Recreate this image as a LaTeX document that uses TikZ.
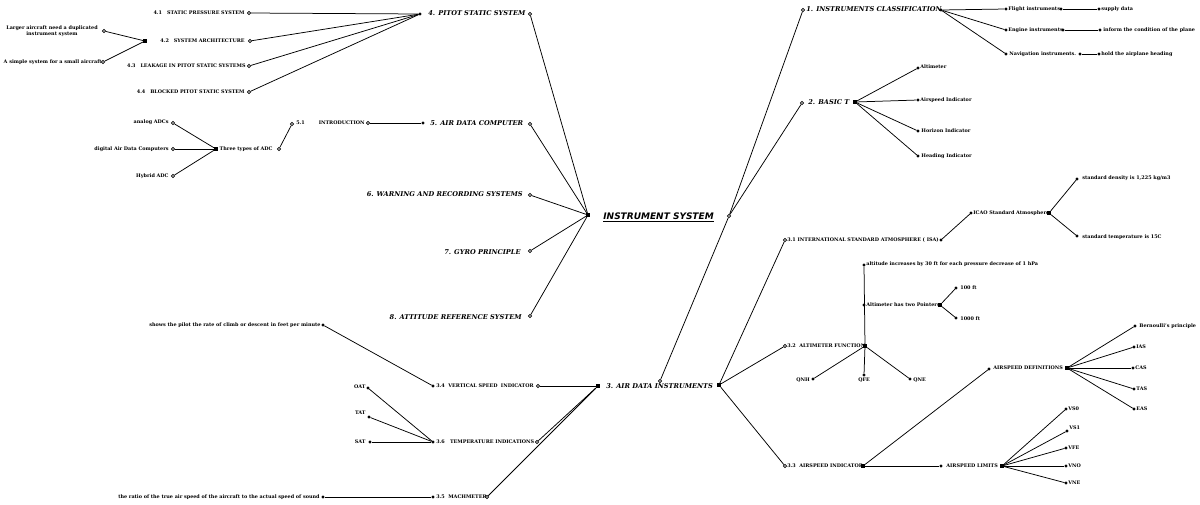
\documentclass[tikz,border=0pt]{standalone}
\usepackage{fontspec}
\setmainfont{DejaVu Serif}
\setsansfont{DejaVu Sans}
\begin{document}
\begin{tikzpicture}[x=1pt,y=-1pt,line width=0.75pt,
  dot/.style={circle,draw,fill=white,inner sep=0,minimum size=3.2pt,line width=0.6pt},
  bdot/.style={circle,draw,fill=black,inner sep=0,minimum size=2.4pt},
  sq/.style={rectangle,fill=black,inner sep=0,minimum size=3.5pt},
  sm/.style={font=\fontsize{4.9}{5.8}\selectfont\bfseries,inner sep=0},
  bg/.style={font=\fontsize{6.6}{8}\selectfont\bfseries\itshape,inner sep=0},
  lt/.style={sm,anchor=west},
  rt/.style={sm,anchor=east},
  lb/.style={bg,anchor=west},
  rb/.style={bg,anchor=east}]
\useasboundingbox (0,0) rectangle (1200,504);
% center
\node[sq] (c) at (588,215) {};
\node[font=\fontsize{9}{11}\selectfont\sffamily\bfseries\itshape,anchor=west,inner sep=0] (ct) at (603,217) {\underline{INSTRUMENT SYSTEM}};
\node[dot] (cr) at (729,216) {};
% left main
\node[dot] (p4r) at (530,14) {}; \node[bdot] (p4) at (420,14) {}; \node[lb] at (428,13) {4. PITOT STATIC SYSTEM};
\node[dot] (p5r) at (530,124) {}; \node[bdot] (p5) at (423,123) {}; \node[lb] at (430,123) {5. AIR DATA COMPUTER};
\node[dot] (p6r) at (530,195) {}; \node[rb] at (523,194) {6. WARNING AND RECORDING SYSTEMS};
\node[dot] (p7r) at (530,251) {}; \node[rb] at (521,252) {7. GYRO PRINCIPLE};
\node[dot] (p8r) at (530,316) {}; \node[rb] at (522,317) {8. ATTITUDE REFERENCE SYSTEM};
\foreach \n in {p4r,p5r,p6r,p7r,p8r} \draw (c) -- (\n);
% 4
\node[dot] (a41) at (249,13) {}; \node[rt] at (245,13) {4.1\quad STATIC PRESSURE SYSTEM};
\node[dot] (a42) at (250,41) {}; \node[rt] at (245,41) {4.2\quad SYSTEM ARCHITECTURE};
\node[dot] (a43) at (249,66) {}; \node[rt] at (246,66) {4.3\quad LEAKAGE IN PITOT STATIC SYSTEMS};
\node[dot] (a44) at (249,92) {}; \node[rt] at (245,92) {4.4\quad BLOCKED PITOT STATIC SYSTEM};
\foreach \n in {a41,a42,a43,a44} \draw (p4) -- (\n);
\node[sq] (a42l) at (145,41) {};
\node[dot] (l1) at (104,31) {}; \node[sm,align=center] at (52,31) {Larger aircraft need a duplicated\\instrument system};
\node[dot] (l2) at (103,62) {}; \node[rt] at (102,62) {A simple system for a small aircraft};
\draw (a42l) -- (l1); \draw (a42l) -- (l2);
% 5
\node[dot] (intr) at (368,123) {}; \node[rt] at (365,123) {INTRODUCTION};
\draw (p5) -- (intr);
\node[dot] (s51) at (292,124) {}; \node[lt] at (296,123) {5.1};
\node[dot] (t3) at (279,149) {}; \node[rt] at (273,149) {Three types of ADC};
\draw (s51) -- (t3);
\node[sq] (t3l) at (216,149) {};
\node[dot] (an) at (173,123) {}; \node[rt] at (169,122) {analog ADCs};
\node[dot] (dg) at (173,149) {}; \node[rt] at (169,149) {digital Air Data Computers};
\node[dot] (hy) at (173,176) {}; \node[rt] at (169,176) {Hybrid ADC};
\foreach \n in {an,dg,hy} \draw (t3l) -- (\n);
% right main
\node[dot] (r1) at (803,10) {}; \node[lb] at (806,9) {1. INSTRUMENTS CLASSIFICATION};
\node[dot] (r2) at (802,103) {}; \node[lb] at (808,102) {2. BASIC T};
\node[dot] (r3) at (660,381) {};
\foreach \n in {r1,r2,r3} \draw (cr) -- (\n);
% 1
\node[bdot] (r1r) at (941,10) {};
\node[bdot] (fi) at (1006,9) {}; \node[lt] at (1008,9) {Flight instruments};
\node[bdot] (ei) at (1006,30) {}; \node[lt] at (1008,30) {Engine instruments};
\node[bdot] (ni) at (1006,54) {}; \node[lt] at (1009,54) {Navigation instruments.};
\foreach \n in {fi,ei,ni} \draw (r1r) -- (\n);
\node[bdot] (fir) at (1061,9) {}; \node[bdot] (sd) at (1099,9) {}; \node[lt] at (1101,9) {supply data};
\node[bdot] (eir) at (1063,30) {}; \node[bdot] (ic) at (1100,30) {}; \node[lt] at (1103,30) {inform the condition of the plane};
\node[bdot] (nir) at (1080,54) {}; \node[bdot] (hh) at (1099,54) {}; \node[lt] at (1101,54) {hold the airplane heading};
\draw (fir)--(sd); \draw (eir)--(ic); \draw (nir)--(hh);
% 2
\node[sq] (r2r) at (855,102) {};
\node[bdot] (alt) at (918,68) {}; \node[lt] at (920,67) {Altimeter};
\node[bdot] (asi) at (918,100) {}; \node[lt] at (920,100) {Airspeed Indicator};
\node[bdot] (hor) at (918,131) {}; \node[lt] at (921,131) {Horizon Indicator};
\node[bdot] (hdg) at (918,156) {}; \node[lt] at (921,156) {Heading Indicator};
\foreach \n in {alt,asi,hor,hdg} \draw (r2r) -- (\n);
% 3
\node[bg,anchor=west] at (606,386) {3. AIR DATA INSTRUMENTS};
\node[sq] (r3r) at (719,385) {};
\node[sq] (r3l) at (598,386) {};
\node[dot] (s31) at (785,240) {}; \node[lt] at (787,240) {3.1 INTERNATIONAL STANDARD ATMOSPHERE ( ISA)};
\node[dot] (s32) at (785,346) {}; \node[lt] at (787,346) {3.2\ \ ALTIMETER FUNCTION};
\node[dot] (s33) at (785,466) {}; \node[lt] at (787,466) {3.3\ \ AIRSPEED INDICATOR};
\foreach \n in {s31,s32,s33} \draw (r3r) -- (\n);
% 3.1
\node[bdot] (s31r) at (941,240) {};
\node[bdot] (icao) at (971,213) {}; \node[lt] at (973,213) {ICAO Standard Atmosphere};
\draw (s31r) -- (icao);
\node[sq] (icaor) at (1049,213) {};
\node[bdot] (den) at (1077,179) {}; \node[lt] at (1082,178) {standard density is 1,225 kg/m3};
\node[bdot] (tem) at (1077,236) {}; \node[lt] at (1082,237) {standard temperature is 15C};
\draw (icaor)--(den); \draw (icaor)--(tem);
% 3.2
\node[sq] (s32r) at (865,346) {};
\node[bdot] (ai) at (864,265) {}; \node[lt] at (866,264) {altitude increases by 30 ft for each pressure decrease of 1 hPa};
\node[bdot] (tp) at (864,305) {}; \node[lt] at (866,305) {Altimeter has two Pointers};
\node[bdot] (qnh) at (813,379) {}; \node[rt] at (810,380) {QNH};
\node[bdot] (qfe) at (864,375) {}; \node[sm] at (864,380) {QFE};
\node[bdot] (qne) at (910,379) {}; \node[lt] at (913,380) {QNE};
\foreach \n in {ai,qnh,qfe,qne} \draw (s32r) -- (\n);
\node[sq] (tpr) at (940,305) {};
\node[bdot] (h100) at (956,288) {}; \node[lt] at (960,288) {100 ft};
\node[bdot] (h1000) at (956,318) {}; \node[lt] at (960,319) {1000 ft};
\draw (tpr)--(h100); \draw (tpr)--(h1000);
% 3.3
\node[sq] (s33r) at (863,466) {};
\node[bdot] (adef) at (989,369) {}; \node[lt] at (993,368) {AIRSPEED DEFINITIONS};
\node[bdot] (alim) at (941,466) {}; \node[lt] at (946,466) {AIRSPEED LIMITS};
\draw (s33r)--(adef); \draw (s33r)--(alim);
\node[sq] (adefr) at (1067,368) {};
\node[bdot] (ber) at (1135,326) {}; \node[lt] at (1139,326) {Bernoulli's principle};
\node[bdot] (ias) at (1134,347) {}; \node[lt] at (1136,347) {IAS};
\node[bdot] (cas) at (1133,368) {}; \node[lt] at (1135,368) {CAS};
\node[bdot] (tas) at (1134,389) {}; \node[lt] at (1136,389) {TAS};
\node[bdot] (eas) at (1134,409) {}; \node[lt] at (1136,409) {EAS};
\foreach \n in {ber,ias,cas,tas,eas} \draw (adefr) -- (\n);
\node[sq] (alimr) at (1002,466) {};
\node[bdot] (v1) at (1066,409) {}; \node[lt] at (1068,409) {VS0};
\node[bdot] (v2) at (1067,431) {}; \node[lt] at (1069,428) {VS1};
\node[bdot] (v3) at (1066,448) {}; \node[lt] at (1068,448) {VFE};
\node[bdot] (v4) at (1066,466) {}; \node[lt] at (1068,466) {VNO};
\node[bdot] (v5) at (1066,483) {}; \node[lt] at (1068,483) {VNE};
\foreach \n in {v1,v2,v3,v4,v5} \draw (alimr) -- (\n);
% 3.4 3.6 3.5
\node[bdot] (s34) at (433,386) {}; \node[lt] at (436,386) {3.4\ \ VERTICAL SPEED\ \ INDICATOR};
\node[dot] (s34r) at (538,386) {};
\node[bdot] (s36) at (433,442) {}; \node[lt] at (436,442) {3.6\ \ \ TEMPERATURE INDICATIONS};
\node[dot] (s36r) at (537,442) {};
\node[bdot] (s35) at (433,497) {}; \node[lt] at (436,497) {3.5\ \ MACHMETER};
\node[dot] (s35r) at (487,497) {};
\foreach \n in {s34r,s36r,s35r} \draw (r3l) -- (\n);
\node[bdot] (vsd) at (323,325) {}; \node[rt] at (321,325) {shows the pilot the rate of climb or descent in feet per minute};
\draw (s34) -- (vsd);
\node[bdot] (mr) at (323,497) {}; \node[rt] at (320,497) {the ratio of the true air speed of the aircraft to the actual speed of sound};
\draw (s35) -- (mr);
\node[bdot] (oat) at (368,388) {}; \node[rt] at (366,387) {OAT};
\node[bdot] (tat) at (369,417) {}; \node[rt] at (366,413) {TAT};
\node[bdot] (sat) at (370,442) {}; \node[rt] at (366,442) {SAT};
\foreach \n in {oat,tat,sat} \draw (s36) -- (\n);
\end{tikzpicture}
\end{document}
